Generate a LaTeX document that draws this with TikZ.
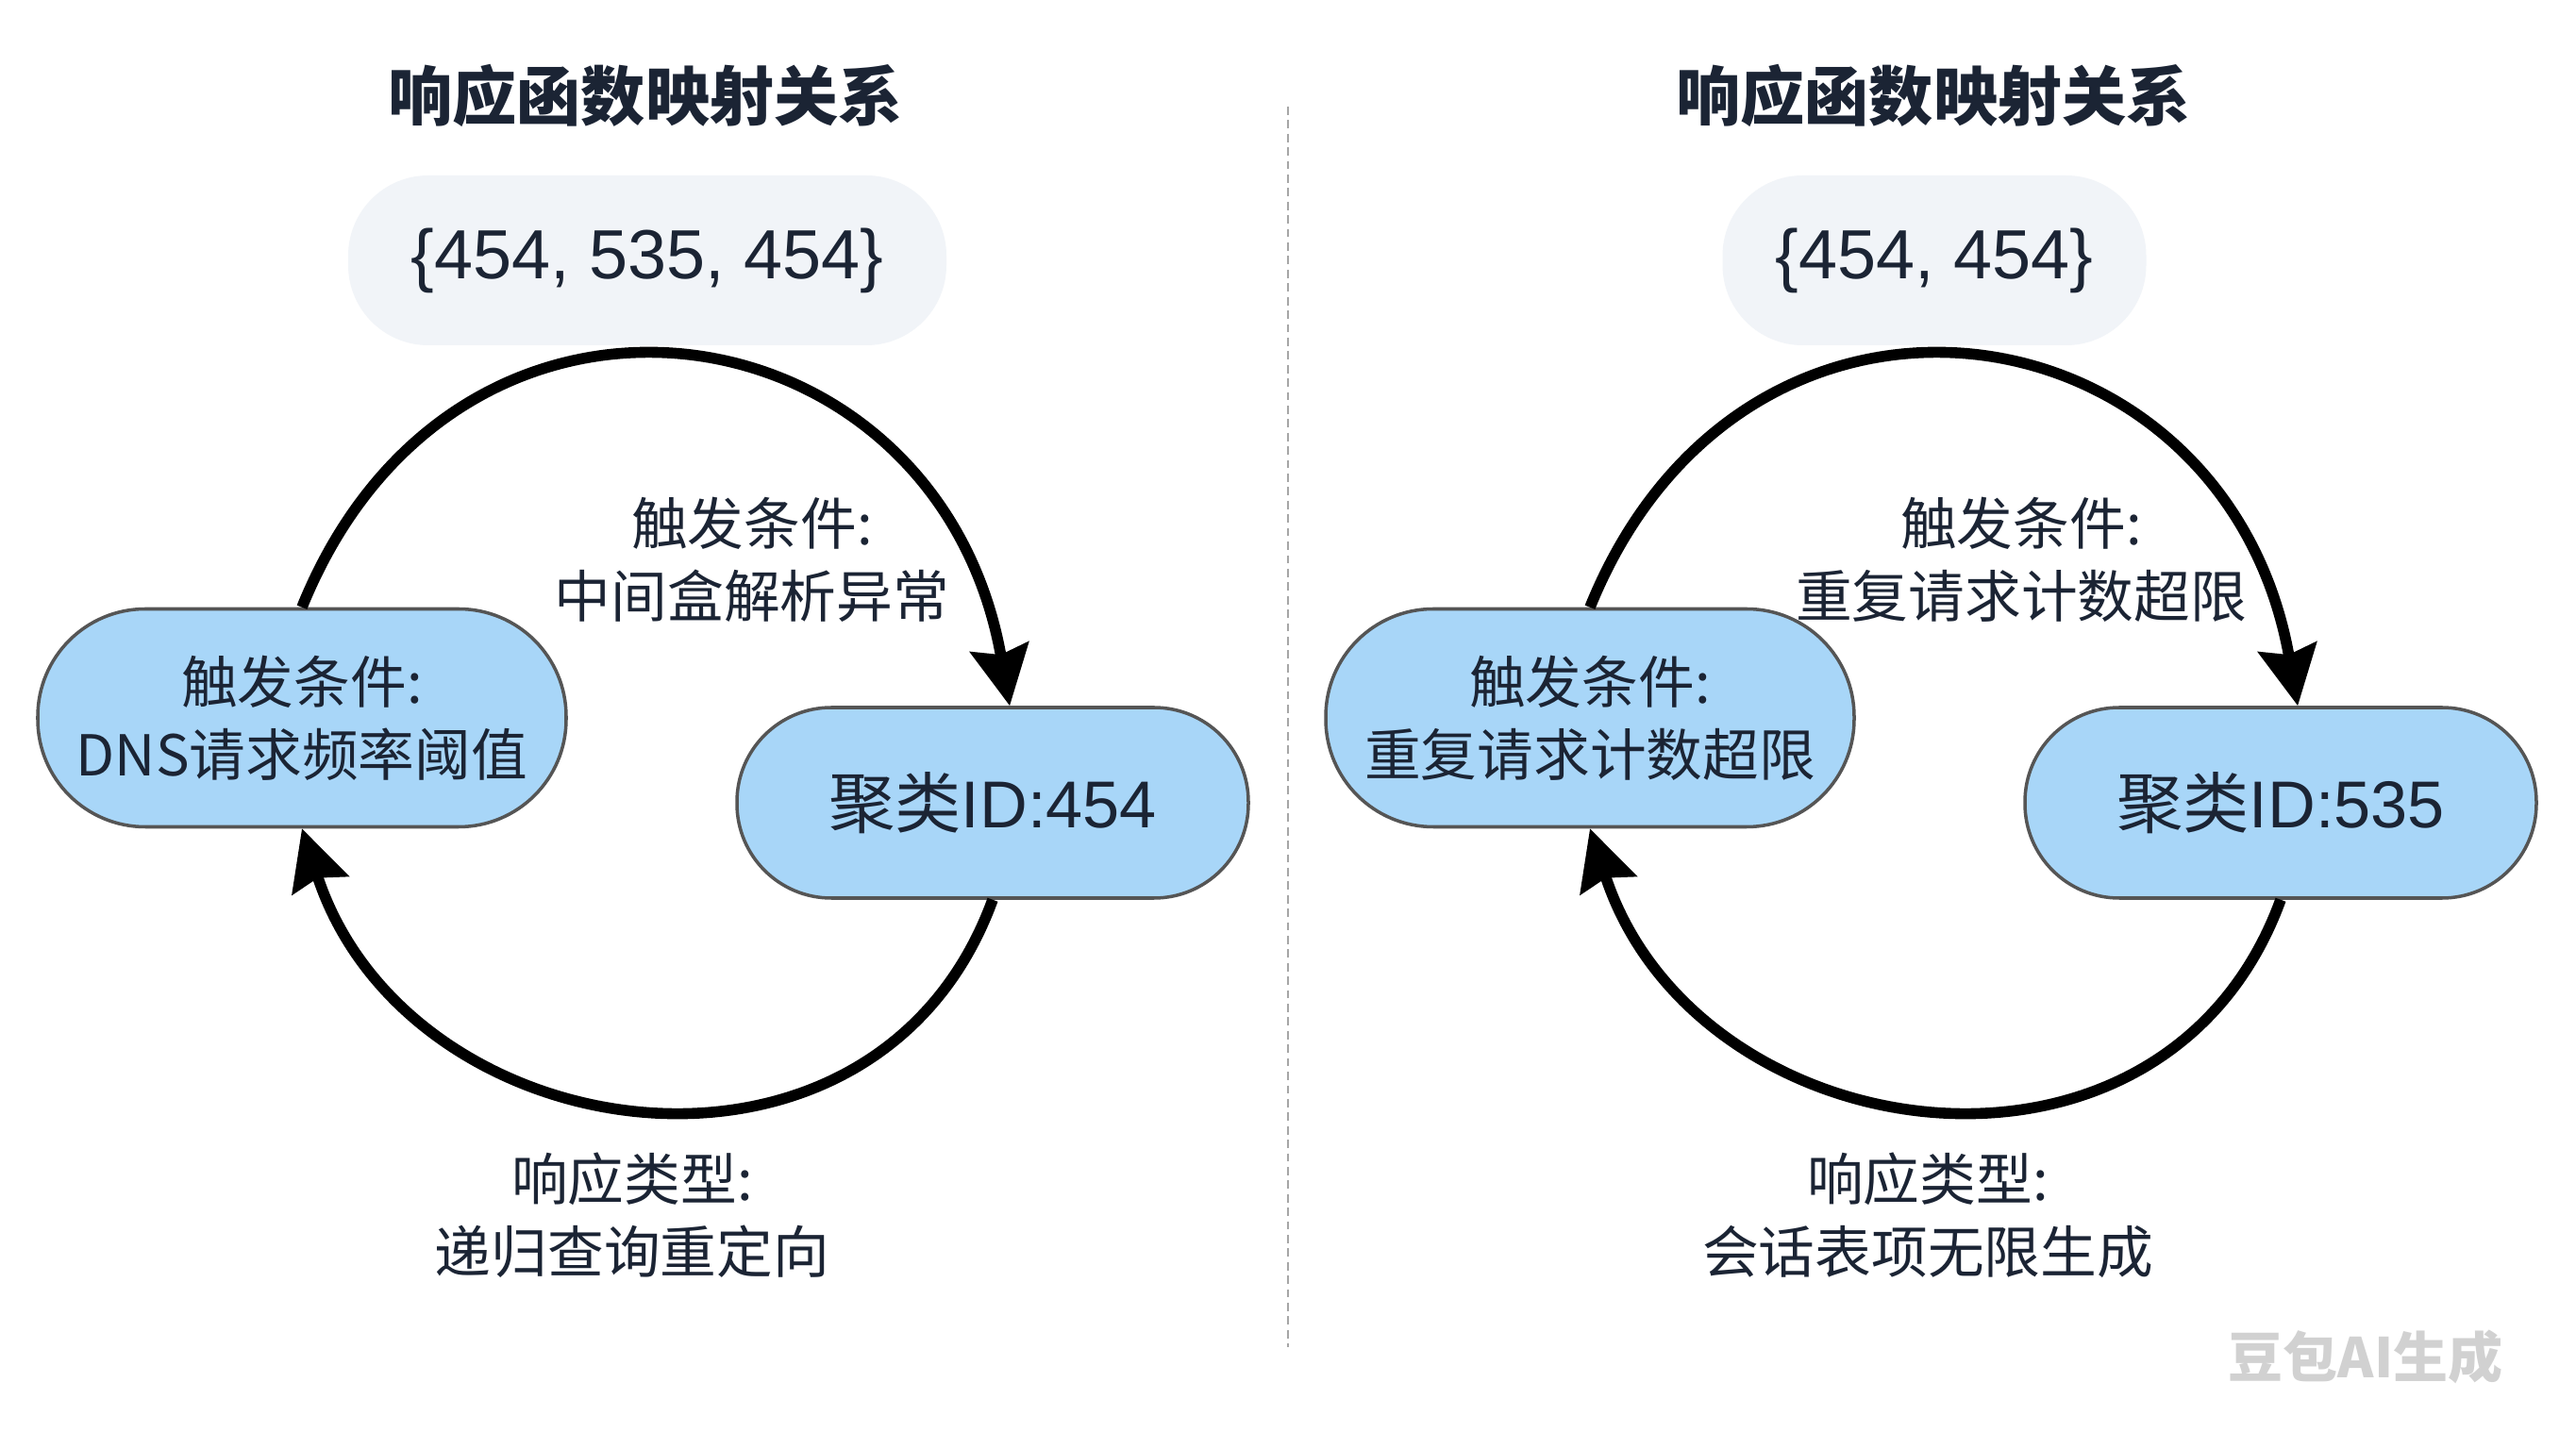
\documentclass[tikz,border=0pt]{standalone}
\usepackage{fontspec}
\setmainfont{Noto Sans CJK SC}
\newfontfamily\numfont{Liberation Sans}
\usetikzlibrary{arrows.meta}
\definecolor{inkblue}{RGB}{27,36,52}
\definecolor{pillgray}{RGB}{241,244,248}
\definecolor{nodeblue}{RGB}{168,214,248}
\definecolor{rimgray}{RGB}{85,85,85}
\def\notefont{\fontsize{17}{22}\selectfont}
\tikzset{
	title/.style={font=\bfseries\fontsize{19.4}{23}\selectfont, text=inkblue},
	setpill/.style={fill=pillgray, rounded corners=0.85cm, minimum height=1.8cm, font=\numfont\fontsize{21}{25}\selectfont, text=inkblue},
	trigbox/.style={draw=rimgray, line width=1pt, fill=nodeblue, text=inkblue, align=center, inner sep=0pt, minimum width=5.6cm, minimum height=2.31cm, rounded corners=1.14cm, font=\notefont},
	clusterbox/.style={draw=rimgray, line width=1pt, fill=nodeblue, text=inkblue, inner sep=0pt, minimum width=5.42cm, minimum height=2.02cm, rounded corners=1cm, font=\fontsize{20}{24}\selectfont},
	note/.style={text=inkblue, align=center, font=\notefont},
	cyclearrow/.style={line width=3.3pt, -{Stealth[length=0.63cm, width=0.62cm, inset=0.08cm]}}
}

\begin{document}
\begin{tikzpicture}
			%%%%% START %%%%%
			
			\fill[white] (0, 0) rectangle (27.3, 15.35);
			\useasboundingbox (0, 0) rectangle (27.3, 15.35);
			
			% left panel
			\node[title] (titleA) at (6.84, 14.34) {响应函数映射关系};
			\node[setpill, minimum width=6.34cm] (setA) at (6.86, 12.59) {\{454, 535, 454\}};
			
			\node[trigbox] (trigA) at (3.2, 7.74) {触发条件:\\DNS请求频率阈值};
			\node[clusterbox] (clusA) at (10.52, 6.84) {聚类{\numfont ID:454}};
			
			\draw[cyclearrow] (trigA.north) to[out=68, in=100, looseness=1.48] (clusA.80);
			\draw[cyclearrow] (clusA.south) to[out=-110, in=-72, looseness=1.26] (trigA.south);
			
			\node[note] (topA) at (7.97, 9.42) {触发条件:\\中间盒解析异常};
			\node[note] (botA) at (6.7, 2.47) {响应类型:\\递归查询重定向};
			
			% divider
			\draw[line width=0.7pt, color=black!35, dash pattern=on 2.5pt off 1.6pt] (13.65, 14.22) -- (13.65, 1.07);
			
			% right panel
			\node[title] (titleB) at (20.49, 14.34) {响应函数映射关系};
			\node[setpill, minimum width=4.49cm] (setB) at (20.5, 12.59) {\{454, 454\}};
			
			\node[trigbox] (trigB) at (16.85, 7.74) {触发条件:\\重复请求计数超限};
			\node[clusterbox] (clusB) at (24.17, 6.84) {聚类{\numfont ID:535}};
			
			\draw[cyclearrow] (trigB.north) to[out=68, in=100, looseness=1.48] (clusB.80);
			\draw[cyclearrow] (clusB.south) to[out=-110, in=-72, looseness=1.26] (trigB.south);
			
			\node[note] (topB) at (21.42, 9.42) {触发条件:\\重复请求计数超限};
			\node[note] (botB) at (20.43, 2.47) {响应类型:\\会话表项无限生成};
			
			\node[font=\bfseries\fontsize{16.5}{20}\selectfont, text=black!18] (mark) at (25.07, 0.97) {豆包AI生成};
			
			%%%%% END %%%%%
\end{tikzpicture}
\end{document}
